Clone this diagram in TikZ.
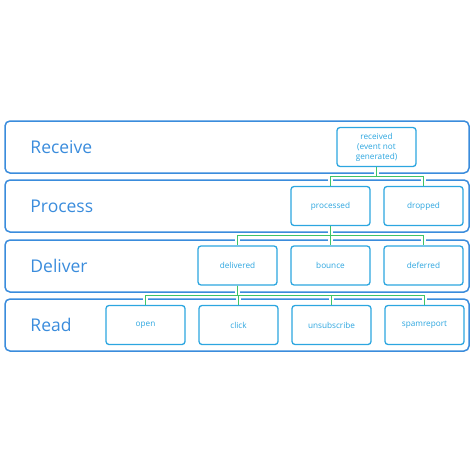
\documentclass[tikz,border=0pt]{standalone}
\usepackage{fontspec}
\setmainfont{Open Sans}
\usetikzlibrary{positioning, calc}
\definecolor{rowblue}{RGB}{58, 140, 220}
\definecolor{boxblue}{RGB}{44, 166, 224}
\definecolor{linkgreen}{RGB}{62, 196, 104}

\begin{document}
\begin{tikzpicture}[
  x=1pt, y=-1pt,
  node distance     = 12.7pt,
  stage/.style      = {rectangle, rounded corners=5pt,
                        draw=rowblue, line width=1.5pt,
                        minimum width=464pt, minimum height=52pt, inner sep=0pt},
  stagelabel/.style = {font=\fontsize{17.5}{20}\selectfont, text=rowblue,
                        anchor=west, inner sep=0pt},
  event/.style      = {rectangle, rounded corners=3pt,
                        draw=boxblue, fill=white, line width=1.3pt,
                        minimum width=79pt, minimum height=39pt, inner sep=1pt,
                        align=center, text=boxblue,
                        font=\fontsize{8.2}{10}\selectfont},
  halo/.style       = {draw=white, line width=4.5pt,
                        shorten <=1.5pt, shorten >=1.5pt},
  link/.style       = {draw=linkgreen, line width=1.1pt},
]
\useasboundingbox (0,0) rectangle (474,474);

%% Stage rows
\node[stage] (receive) at (237,147) {};
\node[stage] (process) at (237,206) {};
\node[stage] (deliver) at (237,266) {};
\node[stage] (read)    at (237,325) {};

\foreach \r/\t in {receive/Receive, process/Process, deliver/Deliver, read/Read}
  \node[stagelabel] (\r-label) at ([xshift=26pt]\r.west) {\t};

%% Events
\node[event] (received) at (376.5,147) {received\\(event not\\generated)};

\node[event] (processed) at (330.5,206) {processed};
\node[event, right=of processed] (dropped) {dropped};

\node[event] (delivered) at (237.5,265.5) {delivered};
\node[event, right=of delivered] (bounce)   {bounce};
\node[event, right=of bounce]    (deferred) {deferred};

\node[event] (open) at (145.5,325) {open};
\node[event, right=of open]        (click)       {click};
\node[event, right=of click]       (unsubscribe) {unsubscribe};
\node[event, right=of unsubscribe] (spamreport)  {spamreport};

%% Connectors
\def\eventlinks{received/processed, received/dropped,
  processed/delivered, processed/bounce, processed/deferred,
  delivered/open, delivered/click, delivered/unsubscribe, delivered/spamreport}

\foreach \a/\b in \eventlinks
  \draw[halo] (\a.south) |- ($(\a.south)!.5!(\b.north)$) -| (\b.north);
\foreach \a/\b in \eventlinks
  \draw[link] (\a.south) |- ($(\a.south)!.5!(\b.north)$) -| (\b.north);

\end{tikzpicture}
\end{document}
